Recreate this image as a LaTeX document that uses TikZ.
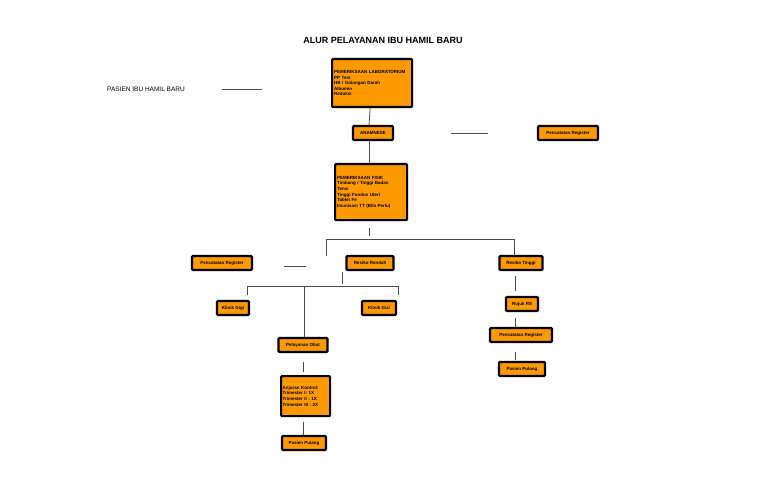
\documentclass[tikz,border=0pt]{standalone}
\usepackage{fontspec}
\setmainfont{Liberation Sans}
\begin{document}
\begin{tikzpicture}[x=1pt,y=-1pt,
 box/.style={draw=black,line width=2.2pt,fill={rgb,255:red,255;green,153;blue,0},rounded corners=1pt,inner sep=1pt,font=\fontsize{4.5}{5.6}\selectfont\bfseries},
 mbox/.style={box,align=left,anchor=north west,inner sep=1.5pt},
 ln/.style={draw=black!70,line width=0.8pt}]
\useasboundingbox (0,0) rectangle (768,489);
\node[font=\fontsize{9}{10}\selectfont\bfseries] (title) at (383,40) {ALUR PELAYANAN IBU HAMIL BARU};
\node[font=\fontsize{6.5}{7}\selectfont] (pasien) at (146,89) {PASIEN IBU HAMIL BARU};
\coordinate (p1) at (222,89); \coordinate (p2) at (262,89);
\draw[ln] (p1) -- (p2);
\node[mbox,minimum width=80,minimum height=48,text width=76] (lab) at (331,58) {PEMERIKSAAN LABORATORIUM\\PP Test\\HB / Golongan Darah\\Albumin\\Reduksi};
\node[box,minimum width=40,minimum height=14] (anam) at (373,133) {ANAMNESE};
\draw[ln] (lab.south) ++(-2,0) coordinate (l1) -- (369,126) coordinate (l2);
\coordinate (a1) at (451,133); \coordinate (a2) at (488,133);
\draw[ln] (a1) -- (a2);
\node[box,minimum width=60,minimum height=14] (reg1) at (568,133) {Pencatatan Register};
\node[mbox,minimum width=72,minimum height=56,text width=68] (pem) at (334,163) {PEMERIKSAAN FISIK\\Timbang /  Tinggi Badan\\Tensi\\Tinggi Fundus Uteri\\Tablet Fe\\Imunisasi  TT (Bila Perlu)};
\draw[ln] (369,140) -- (369,163);
\draw[ln] (369,228) -- (369,236);
\draw[ln] (326,256) -- (326,239) -- (514,239) -- (514,258);
\node[box,minimum width=60,minimum height=14] (reg2) at (222,263) {Pencatatan Register};
\draw[ln] (284,266) -- (306,266);
\node[box,minimum width=47,minimum height=14] (rr) at (370,263) {Resiko Rendah};
\node[box,minimum width=43,minimum height=14] (rt) at (521,263) {Resiko Tinggi};
\draw[ln] (342,272) -- (342,284);
\draw[ln] (247,295) -- (247,286) -- (398,286) -- (398,295);
\draw[ln] (304,286) -- (304,338);
\node[box,minimum width=32,minimum height=14] (gigi) at (233,308) {Klinik Gigi};
\node[box,minimum width=34,minimum height=14] (gizi) at (379,308) {Klinik Gizi};
\node[box,minimum width=49,minimum height=14] (obat) at (303,345) {Pelayanan Obat};
\draw[ln] (303,362) -- (303,372);
\node[mbox,minimum width=49,minimum height=40,text width=46] (anj) at (280,375) {Anjuran Kontrol:\\Trimester I:  1X\\Trimester II :  1X\\Trimester III : 2X};
\draw[ln] (303,422) -- (303,435);
\node[box,minimum width=44,minimum height=14] (pul1) at (304,443) {Pasien Pulang};
\draw[ln] (515,276) -- (515,291);
\node[box,minimum width=32,minimum height=14] (rs) at (522,304) {Rujuk RS};
\draw[ln] (515,318) -- (515,327);
\node[box,minimum width=62,minimum height=14] (reg3) at (521,335) {Pencatatan Register};
\draw[ln] (515,352) -- (515,360);
\node[box,minimum width=46,minimum height=14] (pul2) at (522,369) {Pasien Pulang};
\end{tikzpicture}
\end{document}
